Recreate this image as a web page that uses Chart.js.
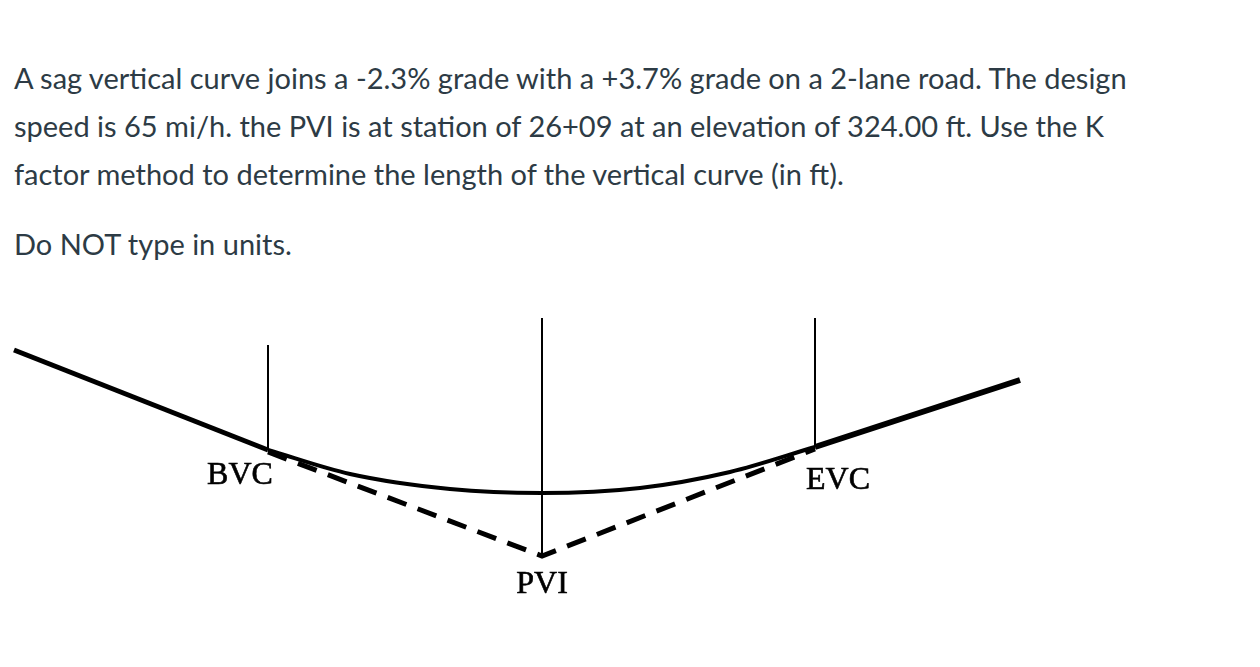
<!DOCTYPE html>
<html><head><meta charset="utf-8">
<script src="https://cdn.jsdelivr.net/npm/chart.js@4"></script>
<style>
body{margin:0;background:#fff;width:1260px;height:667px;overflow:hidden;position:relative}
#q{position:absolute;left:14px;top:54px;font-family:Lato,sans-serif;font-size:29px;line-height:48px;color:#2d3b45;white-space:nowrap}
#q p{margin:0}
#wrap{position:absolute;left:0;top:290px;width:1260px;height:377px}
</style></head><body>
<div id="q"><p>A sag vertical curve joins a -2.3% grade with a +3.7% grade on a 2-lane road. The design<br>speed is 65 mi/h. the PVI is at station of 26+09 at an elevation of 324.00 ft. Use the K<br>factor method to determine the length of the vertical curve (in ft).</p>
<p style="margin-top:22px">Do NOT type in units.</p></div>
<div id="wrap"><canvas id="c"></canvas></div>
<script>
// diagram coordinates (pixels, y downward)
const leftTangent = [{x:14,y:350},{x:268,y:450}];
const rightTangent = [{x:815,y:447},{x:1020,y:380}];
const curve = [{x:268,y:450},{x:350,y:474},{x:450,y:489},{x:542,y:493},{x:640,y:488},{x:730,y:472},{x:815,y:447}];
const grades = [{x:268,y:452},{x:542,y:556},{x:815,y:449}];
const stakeBVC = [{x:268,y:345},{x:268,y:450}];
const stakePVI = [{x:542,y:318},{x:542,y:556}];
const stakeEVC = [{x:815,y:318},{x:815,y:447}];
const labels = [{t:"BVC",x:240,y:476},{t:"PVI",x:542,y:585},{t:"EVC",x:838,y:481}];

const ds = (d, w, extra) => Object.assign({data:d,borderColor:'#000',borderWidth:w,pointRadius:0,showLine:true,fill:false}, extra||{});
const labelPlugin = {
  id:'lbl',
  afterDraw(ch){
    const c = ch.ctx, xs = ch.scales.x, ys = ch.scales.y;
    c.save();
    c.font = '32px "Liberation Serif", serif';
    c.fillStyle = '#000'; c.strokeStyle = '#000'; c.lineWidth = 0.6;
    c.textAlign = 'center'; c.textBaseline = 'middle';
    labels.forEach(l => {
      const px = xs.getPixelForValue(l.x), py = ys.getPixelForValue(l.y);
      c.fillText(l.t, px, py); c.strokeText(l.t, px, py);
    });
    c.restore();
  }
};
new Chart(document.getElementById('c'), {
  type:'scatter',
  data:{datasets:[
    ds(leftTangent,5), ds(rightTangent,6),
    ds(curve,4,{tension:0.4,cubicInterpolationMode:'monotone'}),
    ds(grades,5,{borderDash:[20,12]}),
    ds(stakeBVC,2), ds(stakePVI,2), ds(stakeEVC,2)
  ]},
  options:{
    responsive:true, maintainAspectRatio:false, animation:false,
    layout:{padding:0},
    plugins:{legend:{display:false},tooltip:{enabled:false}},
    scales:{
      x:{type:'linear',min:0,max:1260,display:false},
      y:{type:'linear',min:290,max:667,reverse:true,display:false}
    }
  },
  plugins:[labelPlugin]
});
</script>
</body></html>
